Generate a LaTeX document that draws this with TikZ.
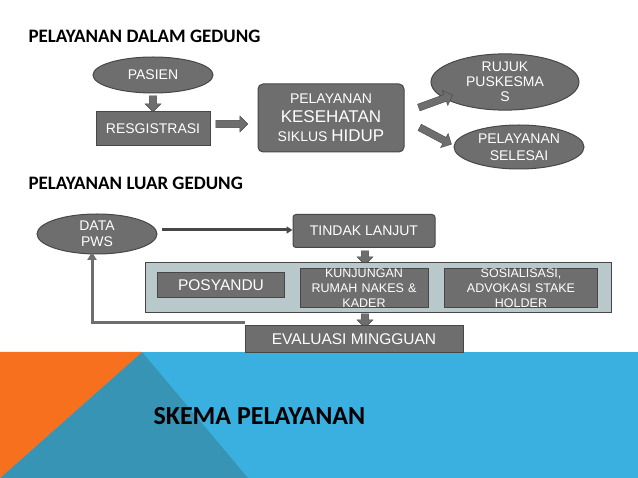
\documentclass[tikz,border=0pt]{standalone}
\usepackage{fontspec}
\setmainfont{Liberation Sans}
\newfontfamily\headfont{Carlito}
\usetikzlibrary{shapes.geometric,shapes.arrows,arrows.meta}
\definecolor{boxgray}{HTML}{6E6E6E}
\definecolor{edgegray}{HTML}{474747}
\definecolor{panel}{HTML}{B9C8CB}
\definecolor{orng}{HTML}{F7701E}
\definecolor{lblue}{HTML}{3AB0E0}
\definecolor{dteal}{HTML}{3894B5}
\tikzset{
 box/.style={draw=edgegray,line width=1pt,fill=boxgray,text=white,font=\fontsize{14}{15}\selectfont,align=center,inner sep=0pt},
 oval/.style={box,ellipse},
 barrow/.style={single arrow,fill=boxgray,draw=edgegray,minimum height=#1,single arrow head extend=4pt,inner sep=3pt,minimum width=16pt},
 head/.style={font=\headfont\bfseries\fontsize{19}{20}\selectfont,anchor=west}
}
\begin{document}
\begin{tikzpicture}[x=1pt,y=-1pt]
\useasboundingbox (0,0) rectangle (638,478);
\fill[lblue] (0,352) rectangle (638,478);
\fill[dteal] (142,352) -- (248,478) -- (0,478) -- cycle;
\fill[orng] (0,352) -- (142,352) -- (0,478) -- cycle;
\node[head] (h1) at (25,36) {PELAYANAN DALAM GEDUNG};
\node[head] (h2) at (25,183) {PELAYANAN LUAR GEDUNG};
\node[font=\headfont\bfseries\fontsize{26}{28}\selectfont,anchor=west] (title) at (150,416) {SKEMA PELAYANAN};

\node[oval,minimum width=120,minimum height=36] (pasien) at (153,75) {PASIEN};
\node[box,minimum width=114,minimum height=34] (reg) at (153,129) {RESGISTRASI};
\node[barrow=16,rotate=-90] (a1) at (153,102) {};
\node[barrow=32] (a2) at (230,124) {};
\node[box,rounded corners=5pt,minimum width=146,minimum height=68,font=\fontsize{14}{19}\selectfont] (pk) at (331,118) {PELAYANAN\\{\fontsize{17}{19}\selectfont KESEHATAN}\\SIKLUS {\fontsize{17}{19}\selectfont HIDUP}};
\node[oval,minimum width=148,minimum height=48,font=\fontsize{14}{15}\selectfont] (rujuk) at (505,82) {RUJUK\\PUSKESMA\\S};
\node[oval,minimum width=130,minimum height=44,font=\fontsize{14}{17}\selectfont] (selesai) at (519,147) {PELAYANAN\\SELESAI};
\node[barrow=36,rotate=20] (a3) at (434,102) {};
\node[barrow=36,rotate=-28] (a4) at (434,135) {};

\node[oval,minimum width=120,minimum height=40,font=\fontsize{14}{16}\selectfont] (pws) at (97,234) {DATA\\PWS};
\node[box,rounded corners=3pt,minimum width=142,minimum height=33,font=\fontsize{14}{15}\selectfont] (tl) at (364,231) {TINDAK LANJUT};
\draw[edgegray,line width=3pt,-{Triangle[length=6pt,width=7pt]}] (pws.east|-0,230) ++(4,0) coordinate (s1) -- (tl.west|-0,230);
\node[barrow=14,rotate=-90] (a5) at (365,256) {};
\node[draw=edgegray,line width=1pt,fill=panel,minimum width=466,minimum height=50] (panel) at (378,288) {};
\node[box,minimum width=127,minimum height=25,font=\fontsize{15.5}{16}\selectfont] (pos) at (221,285) {POSYANDU};
\node[box,minimum width=128,minimum height=32,text width=126,font=\fontsize{12.5}{15}\selectfont] (kun) at (364,288) {KUNJUNGAN\\RUMAH NAKES \&\\KADER};
\node[box,minimum width=153,minimum height=32,text width=150,font=\fontsize{12.5}{15}\selectfont] (sos) at (521,288) {SOSIALISASI,\\ADVOKASI STAKE\\HOLDER};
\node[barrow=14,rotate=-90] (a6) at (365,319) {};
\node[box,minimum width=218,minimum height=27,font=\fontsize{15.5}{16}\selectfont] (eval) at (354,339) {EVALUASI MINGGUAN};
\draw[boxgray,line width=3pt,-{Triangle[length=8pt,width=9pt]}] (eval.west|-0,323) -- (92,323) -- (92,252);
\end{tikzpicture}
\end{document}
